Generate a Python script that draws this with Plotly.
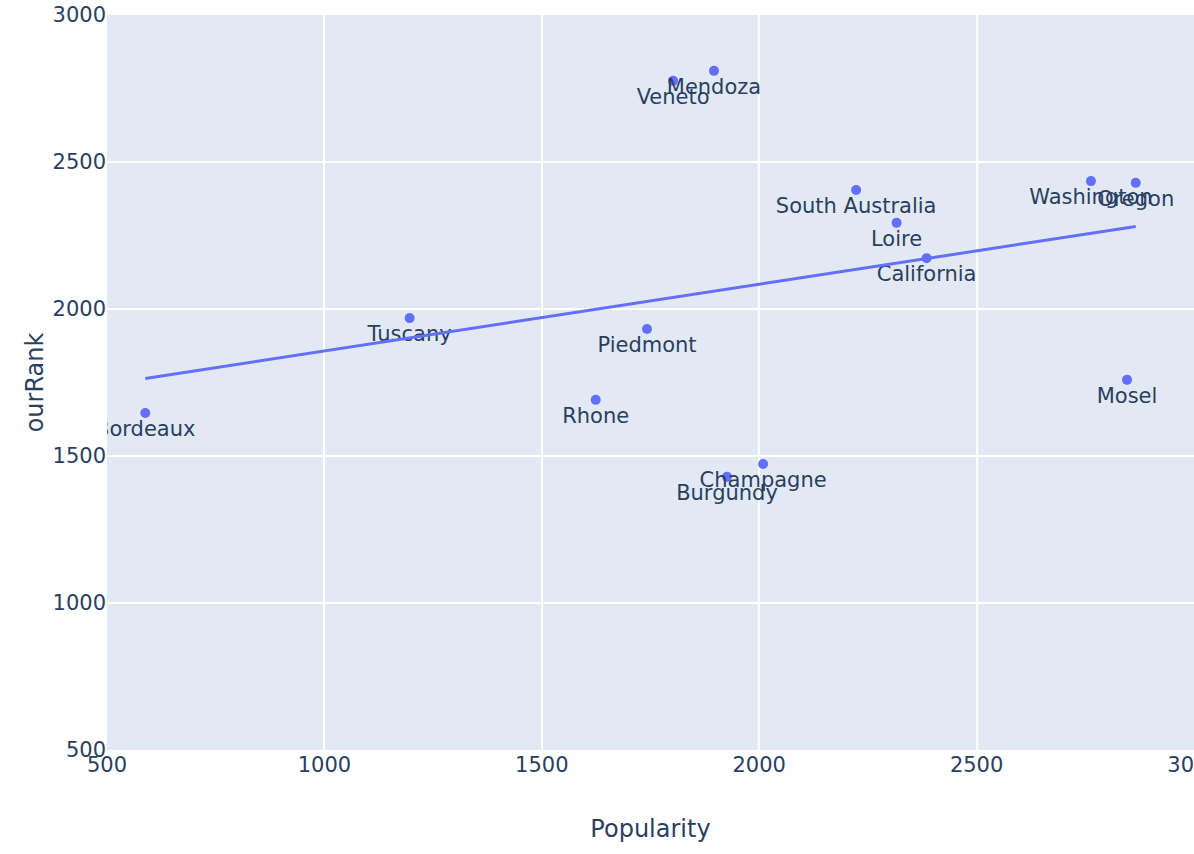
import numpy as np
import plotly.graph_objects as go

regions = ["Bordeaux", "Tuscany", "Rhone", "Piedmont", "Veneto", "Mendoza", "Burgundy",
           "Champagne", "South Australia", "Loire", "California", "Washington", "Oregon", "Mosel"]
popularity = [588, 1196, 1624, 1742, 1802, 1896, 1926, 2009, 2223, 2316, 2385, 2763, 2866, 2846]
our_rank = [1646, 1969, 1691, 1932, 2776, 2810, 1429, 1473, 2405, 2293, 2173, 2435, 2429, 1759]

x_ticks = [500, 1000, 1500, 2000, 2500, 3000]
y_ticks = [500, 1000, 1500, 2000, 2500, 3000]

slope, intercept = np.polyfit(popularity, our_rank, 1)
trend_x = [min(popularity), max(popularity)]
trend_y = [slope * v + intercept for v in trend_x]

fig = go.Figure()
fig.add_trace(go.Scatter(
    x=popularity, y=our_rank, text=regions, mode="markers+text",
    textposition="bottom center",
    marker=dict(color="#636efa", size=10),
    textfont=dict(size=21, color="#2a3f5f"),
    showlegend=False,
))
fig.add_trace(go.Scatter(
    x=trend_x, y=trend_y, mode="lines",
    line=dict(color="#636efa", width=3),
    showlegend=False,
))
fig.update_layout(
    template="plotly",
    width=1274, height=854,
    margin=dict(l=107, r=80, t=15, b=104),
    font=dict(family="DejaVu Sans", size=21, color="#2a3f5f"),
    plot_bgcolor="#E2E9F4",
    xaxis=dict(range=[500, 3000], tickvals=x_ticks, gridwidth=2, automargin=False,
               title=dict(text="Popularity", font=dict(size=24), standoff=44)),
    yaxis=dict(range=[500, 3000], tickvals=y_ticks, gridwidth=2, automargin=False,
               title=dict(text="ourRank", font=dict(size=24), standoff=2)),
)
fig.write_html("out.html")
